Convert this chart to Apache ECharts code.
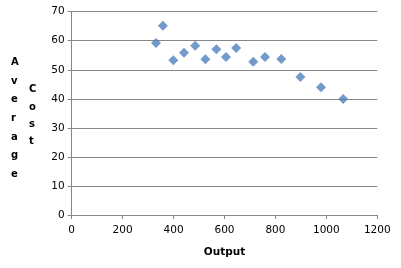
<!DOCTYPE html>
<html><head><meta charset="utf-8">
<script src="https://cdn.jsdelivr.net/npm/echarts@6/dist/echarts.min.js"></script>
<style>html,body{margin:0;padding:0;background:#fff}#c{width:401px;height:268px}</style>
</head><body><div id="c"></div>
<script>
const outputs = [331, 358, 399, 441, 485, 525, 568, 606, 646, 713, 759, 823, 898, 979, 1066];
const avgCost = [59.2, 65.2, 53.3, 55.9, 58.3, 53.6, 57.1, 54.4, 57.5, 52.8, 54.4, 53.7, 47.5, 44.0, 39.9];
const xTitle = 'Output';
const yTitleWords = ['Average', 'Cost'];

const chart = echarts.init(document.getElementById('c'));
const font = 'DejaVu Sans';
chart.setOption({
  animation: false,
  grid: {left: 71.7, right: 23.7, top: 11.7, bottom: 53},
  xAxis: {
    type: 'value', min: 0, max: 1200, interval: 200,
    axisLine: {show: true, lineStyle: {color: '#868686'}},
    axisTick: {show: true, length: 4, lineStyle: {color: '#868686'}},
    axisLabel: {color: '#000', fontFamily: font, fontSize: 10.5, margin: 10, formatter: v => String(v)},
    splitLine: {show: false},
    name: xTitle, nameLocation: 'middle', nameGap: 32,
    nameTextStyle: {fontFamily: font, fontSize: 10.5, fontWeight: 'bold', color: '#000'}
  },
  yAxis: {
    type: 'value', min: 0, max: 70, interval: 10,
    axisLine: {show: true, lineStyle: {color: '#868686'}},
    axisTick: {show: true, length: 4, lineStyle: {color: '#868686'}},
    axisLabel: {color: '#000', fontFamily: font, fontSize: 10.5, margin: 7, formatter: v => String(v)},
    splitLine: {show: true, lineStyle: {color: '#868686'}}
  },
  graphic: [
    {type: 'text', left: 11, top: 53, style: {text: yTitleWords[0].split('').join('\n'), fontFamily: font, fontSize: 10, fontWeight: 'bold', fill: '#000', lineHeight: 18.7, align: 'center'}},
    {type: 'text', left: 29, top: 81, style: {text: yTitleWords[1].split('').join('\n'), fontFamily: font, fontSize: 10, fontWeight: 'bold', fill: '#000', lineHeight: 17.3, align: 'center'}}
  ],
  series: [{
    type: 'scatter',
    symbol: 'diamond', symbolSize: 10,
    itemStyle: {color: '#4F81BD'},
    data: outputs.map((x, i) => [x, avgCost[i]])
  }]
});
</script></body></html>
